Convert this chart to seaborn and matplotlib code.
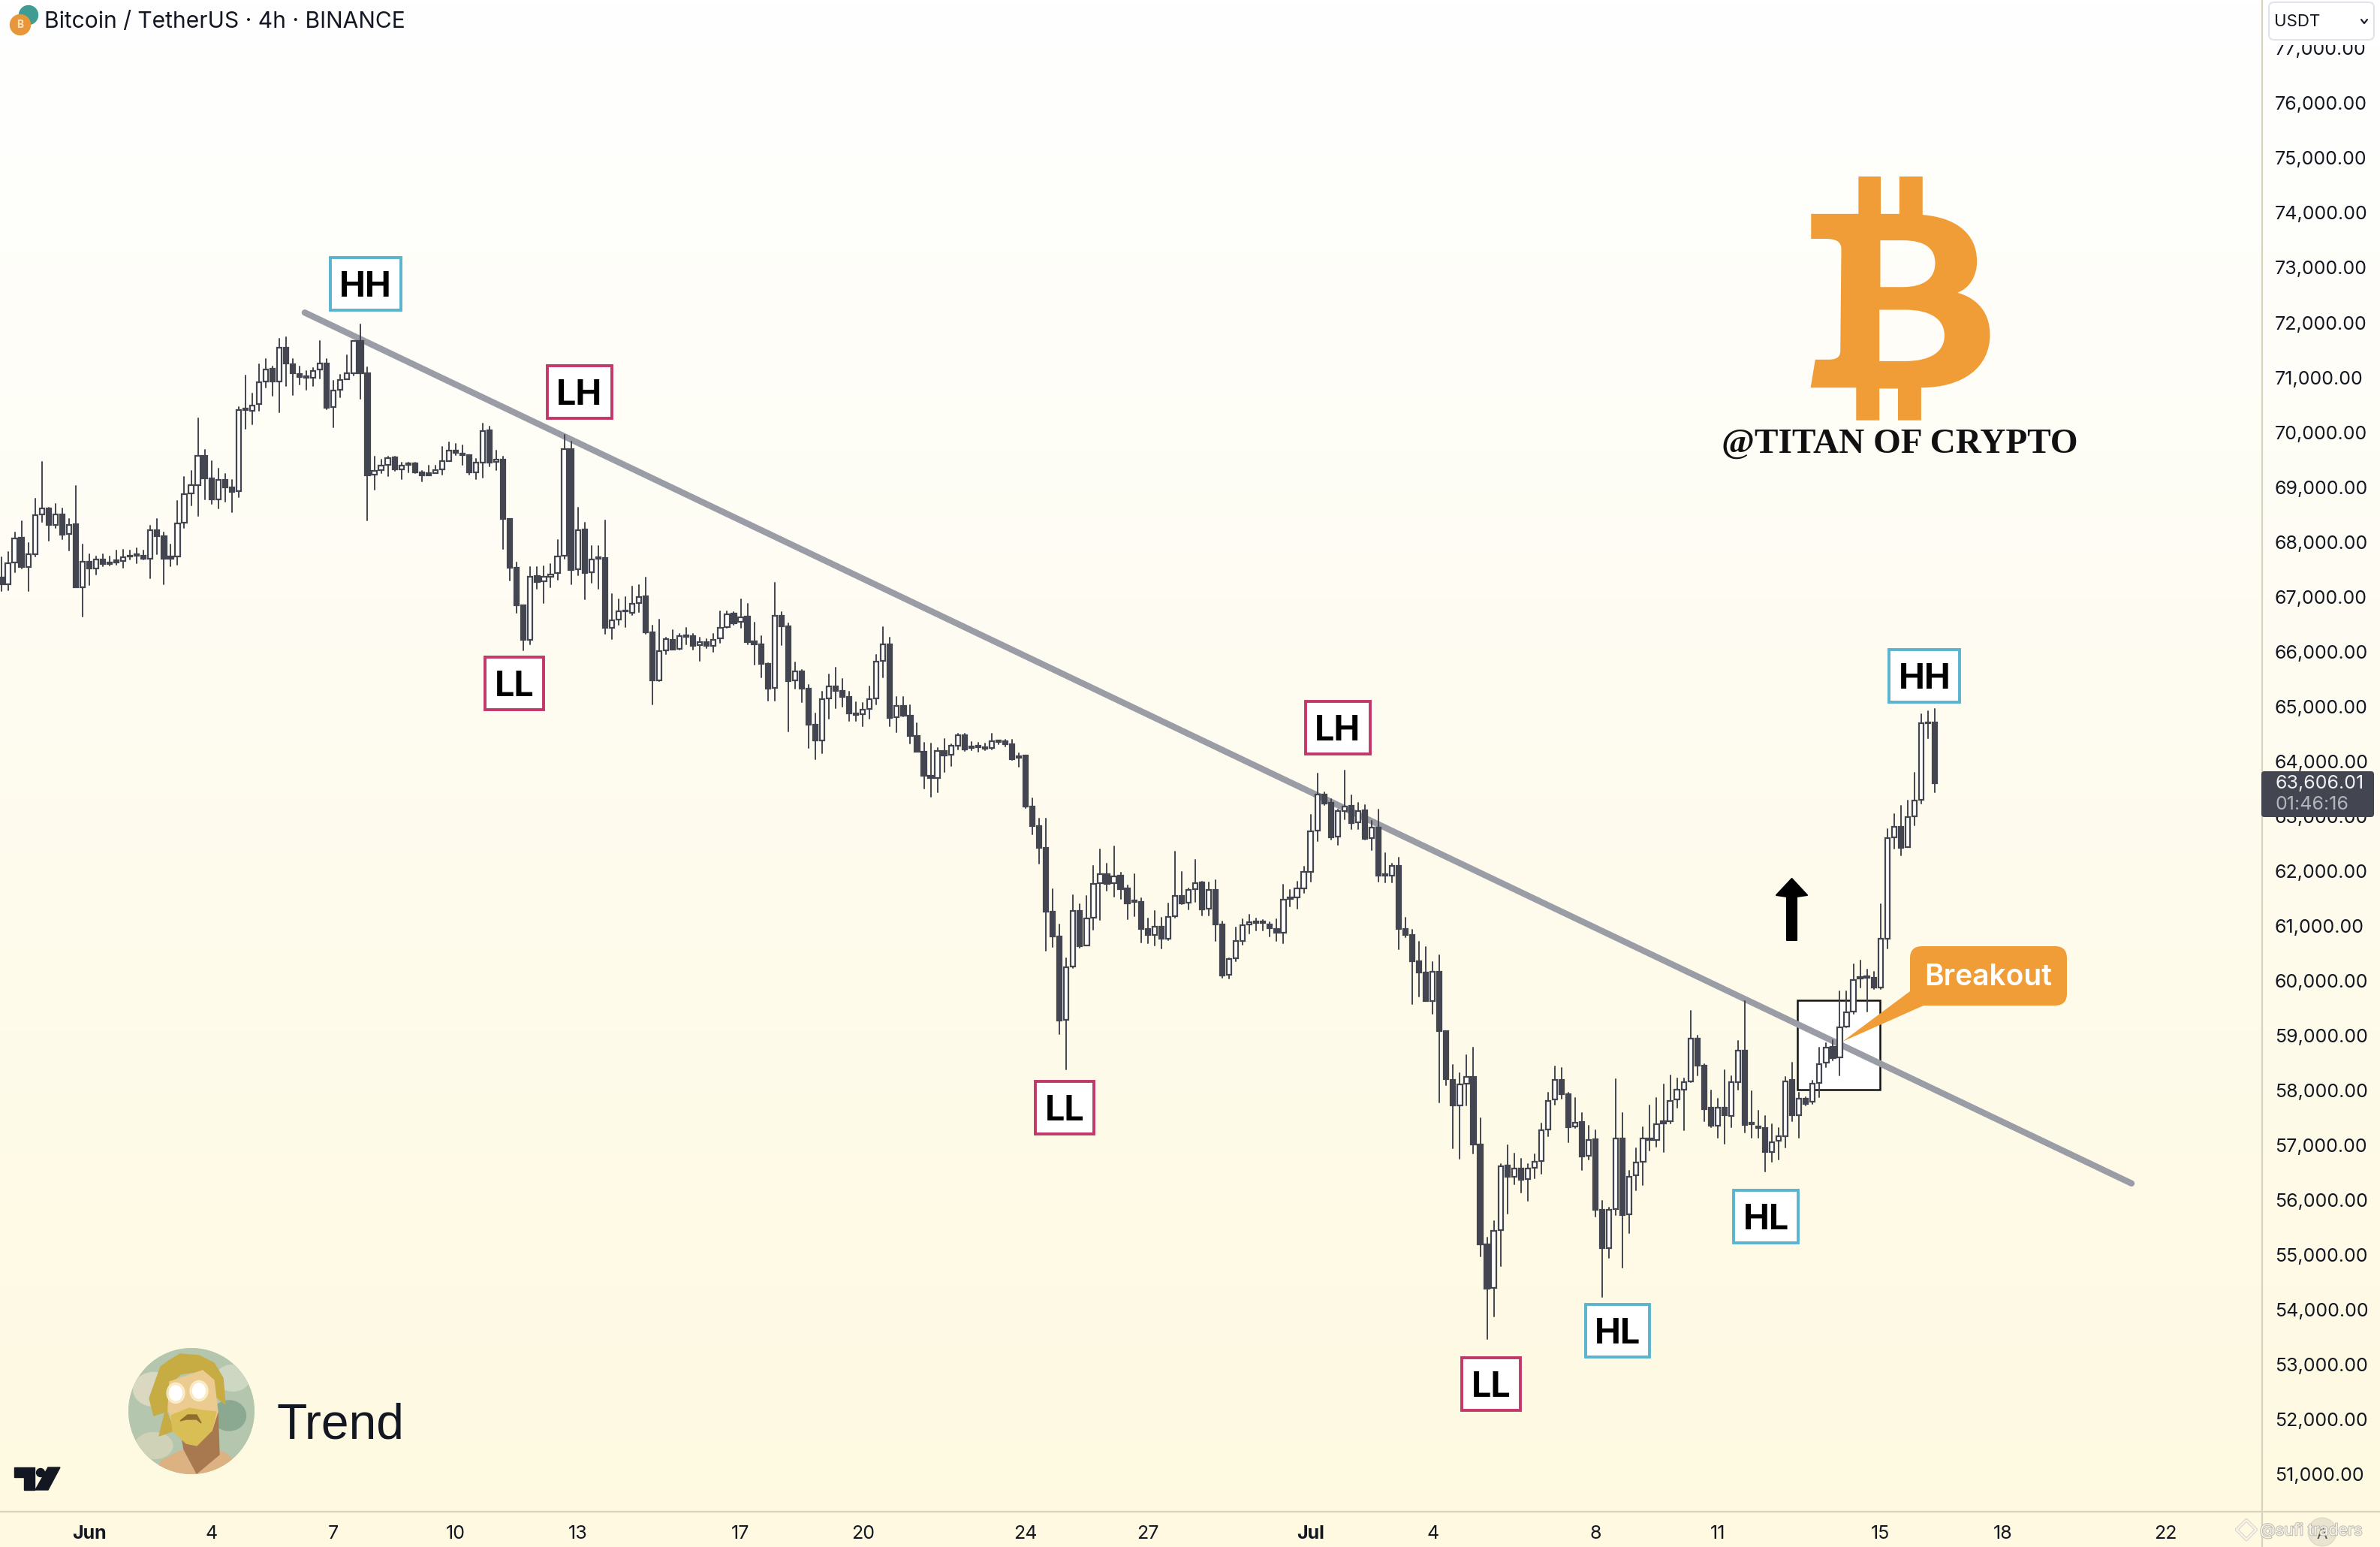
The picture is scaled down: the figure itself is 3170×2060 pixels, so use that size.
import numpy as np
import pandas as pd
import matplotlib
matplotlib.use("Agg")
import matplotlib.pyplot as plt
import matplotlib.dates as mdates
import matplotlib.patheffects as pe
from matplotlib.patches import Circle, Ellipse, FancyBboxPatch, PathPatch, Polygon, Rectangle
from matplotlib.path import Path
from matplotlib.ticker import FuncFormatter
from matplotlib.transforms import Affine2D
import seaborn as sns

# candles, 4h
opens = [
    67350, 67230, 67620, 68080, 67550, 67780, 68500, 68610, 68310, 68500,
    68140, 68320, 67180, 67640, 67510, 67680, 67630, 67670, 67650, 67740,
    67770, 67750, 67690, 68210, 68110, 67730, 67730, 68350, 68880, 69040,
    69570, 69160, 68780, 69130, 68990, 68920, 70430, 70390, 70510, 70920,
    71160, 70930, 71540, 71240, 71060, 71010, 70990, 71140, 71250, 70460,
    70770, 70970, 71080, 71660, 71080, 69230, 69310, 69400, 69540, 69330,
    69430, 69430, 69270, 69260, 69260, 69330, 69480, 69670, 69610, 69580,
    69270, 69450, 70030, 69460, 69500, 68420, 67530, 66850, 66220, 67380,
    67280, 67370, 67430, 67750, 69690, 67500, 68230, 67450, 67700, 67710,
    66440, 66580, 66730, 66710, 66880, 67010, 66350, 65480, 66020, 66220,
    66050, 66300, 66290, 66120, 66180, 66110, 66240, 66450, 66690, 66540,
    66640, 66190, 66130, 65780, 65340, 66650, 66460, 65480, 65640, 65330,
    64670, 64380, 65150, 65360, 65290, 65170, 64880, 64860, 64950, 65150,
    65830, 66130, 64800, 65010, 64830, 64460, 64170, 63740, 63700, 64190,
    64120, 64290, 64480, 64270, 64270, 64250, 64240, 64360, 64370, 64310,
    64060, 64110, 63180, 62820, 62420, 61260, 60810, 59290, 60260, 61270,
    60640, 61150, 61780, 61940, 61780, 61920, 61680, 61440, 61440, 60950,
    60840, 60990, 60760, 61170, 61540, 61420, 61670, 61790, 61320, 61650,
    61030, 60110, 60410, 60730, 61030, 61060, 61060, 61020, 60950, 60880,
    61490, 61520, 61690, 61990, 62740, 63400, 63250, 62630, 63100, 63190,
    62890, 63110, 62600, 62790, 61920, 61910, 62100, 60950, 60840, 60350,
    60150, 59630, 60170, 59080, 58190, 57730, 58120, 58240, 57010, 55190,
    54400, 55460, 56630, 56430, 56580, 56380, 56590, 56710, 57290, 57830,
    58190, 57930, 57340, 57420, 56810, 57110, 55820, 55130, 55840, 57120,
    55740, 56450, 56700, 57130, 57100, 57440, 57440, 57830, 58020, 58160,
    58940, 58450, 57680, 57360, 57680, 57540, 58150, 58730, 57380, 57340,
    57310, 56880, 57080, 57170, 58190, 57550, 57850, 57790, 58140, 58500,
    58790, 58600, 59170, 59440, 60060, 60050, 60050, 59880, 60770, 62620,
    62810, 62430, 63000, 63300, 64690, 64710,
]
closes = [
    67230, 67610, 68070, 67540, 67780, 68490, 68610, 68310, 68500, 68130,
    68310, 67180, 67640, 67510, 67680, 67600, 67600, 67630, 67720, 67730,
    67750, 67690, 68210, 68110, 67690, 67700, 68340, 68870, 69030, 69570,
    69160, 68780, 69130, 68990, 68910, 70400, 70410, 70490, 70910, 71150,
    70920, 71540, 71250, 71070, 71010, 70990, 71120, 71250, 70440, 70760,
    70950, 71070, 71660, 71080, 69220, 69300, 69390, 69530, 69320, 69390,
    69400, 69270, 69220, 69220, 69310, 69470, 69660, 69620, 69580, 69270,
    69440, 70020, 69450, 69500, 68420, 67530, 66850, 66210, 67370, 67270,
    67370, 67410, 67730, 69690, 67490, 68220, 67440, 67680, 67720, 66440,
    66570, 66740, 66750, 66870, 66990, 66350, 65480, 66010, 66230, 66040,
    66290, 66270, 66110, 66180, 66100, 66220, 66440, 66680, 66520, 66630,
    66180, 66130, 65780, 65320, 66650, 66460, 65460, 65640, 65330, 64670,
    64380, 65130, 65360, 65290, 65170, 64880, 64850, 64940, 65140, 65820,
    66130, 64790, 65010, 64830, 64460, 64170, 63740, 63700, 64190, 64110,
    64280, 64470, 64220, 64240, 64260, 64230, 64370, 64370, 64310, 64040,
    64100, 63170, 62820, 62420, 61260, 60810, 59280, 60250, 61270, 60630,
    61140, 61770, 61940, 61770, 61900, 61670, 61410, 61450, 60950, 60830,
    60990, 60760, 61160, 61540, 61410, 61650, 61780, 61300, 61650, 61030,
    60090, 60400, 60720, 61010, 61070, 61070, 61050, 60960, 60870, 61480,
    61510, 61680, 61980, 62730, 63390, 63230, 62620, 63090, 63170, 62880,
    63100, 62590, 62790, 61920, 61930, 62090, 60950, 60840, 60350, 60150,
    59630, 60170, 59080, 58200, 57720, 58110, 58240, 57010, 55190, 54380,
    55440, 56620, 56420, 56580, 56370, 56570, 56700, 57280, 57810, 58190,
    57930, 57330, 57410, 56800, 57100, 55820, 55130, 55820, 57120, 55730,
    56430, 56680, 57130, 57090, 57390, 57400, 57810, 58010, 58150, 58940,
    58450, 57660, 57350, 57680, 57550, 58150, 58730, 57370, 57390, 57310,
    56880, 57060, 57160, 58170, 57550, 57850, 57760, 58130, 58480, 58780,
    58590, 59150, 59430, 60010, 60040, 60060, 59870, 60760, 62600, 62800,
    62420, 62980, 63290, 64690, 64710, 63606,
]
highs = [
    67720, 67820, 68170, 68380, 67980, 68790, 69460, 68630, 68700, 68610,
    68420, 69020, 67960, 67770, 67740, 67780, 67730, 67840, 67860, 67850,
    67890, 67840, 68290, 68420, 68170, 67950, 68750, 69190, 69300, 70260,
    69680, 69470, 69340, 69240, 69130, 70460, 71030, 70700, 71240, 71340,
    71200, 71700, 71730, 71330, 71200, 71120, 71170, 71670, 71340, 70940,
    71050, 71410, 71670, 71960, 71180, 69550, 69500, 69550, 69550, 69450,
    69450, 69440, 69290, 69390, 69390, 69730, 69810, 69790, 69760, 69590,
    69520, 70160, 70110, 69670, 69560, 68420, 67630, 66850, 67550, 67550,
    67560, 67600, 68030, 69950, 69830, 68630, 68350, 67930, 67930, 68390,
    67050, 66950, 67000, 67190, 67220, 67350, 66470, 66590, 66260, 66390,
    66330, 66430, 66320, 66250, 66230, 66330, 66740, 66740, 66720, 66960,
    66870, 66530, 66280, 65790, 67260, 66720, 66510, 65810, 65670, 65390,
    64870, 65270, 65580, 65710, 65510, 65270, 65080, 65060, 65370, 65940,
    66450, 66260, 65170, 65170, 65030, 64690, 64340, 64330, 64240, 64410,
    64310, 64500, 64510, 64360, 64340, 64320, 64500, 64380, 64390, 64390,
    64150, 64110, 63320, 62950, 62950, 61670, 61020, 60410, 61560, 61390,
    61550, 62090, 62390, 62130, 62450, 61970, 61740, 61950, 61510, 61130,
    61270, 61150, 61410, 62350, 61980, 61690, 62200, 61810, 61790, 61840,
    61080, 60410, 60970, 61120, 61200, 61140, 61110, 61070, 61120, 61750,
    61660, 61810, 62080, 63030, 63780, 63430, 63310, 63120, 63830, 63380,
    63250, 63200, 62920, 63120, 62330, 62140, 62250, 61150, 60930, 60710,
    60610, 60340, 60470, 59080, 58470, 58320, 58640, 58780, 57500, 55320,
    55620, 56660, 57000, 56850, 56760, 56660, 56830, 57400, 57960, 58440,
    58410, 57960, 57870, 57590, 57350, 57280, 55990, 55870, 58210, 57590,
    56540, 56940, 57330, 57720, 57860, 58110, 58270, 58220, 58220, 59450,
    59000, 58480, 58000, 57850, 58370, 58260, 58910, 59630, 57980, 57630,
    57530, 57380, 57310, 58240, 58500, 57960, 57880, 58180, 58780, 58860,
    58920, 59810, 59810, 60300, 60370, 60210, 60160, 61390, 62760, 63040,
    63190, 63280, 63790, 64860, 64920, 64960,
]
lows = [
    67110, 67120, 67450, 67510, 67100, 67740, 68370, 68020, 68260, 68050,
    67850, 67170, 66640, 67220, 67400, 67560, 67570, 67590, 67530, 67680,
    67610, 67680, 67340, 67770, 67230, 67560, 67590, 68260, 68660, 68480,
    68780, 68700, 68610, 68730, 68540, 68820, 70060, 70140, 70390, 70810,
    70670, 70360, 70850, 70680, 70870, 70780, 70840, 70980, 70420, 70090,
    70640, 70970, 71030, 70610, 68390, 68960, 69260, 69200, 69290, 69150,
    69270, 69260, 69110, 69220, 69250, 69230, 69470, 69580, 69410, 69230,
    69150, 69170, 69380, 69310, 67870, 67300, 66710, 66020, 66130, 67140,
    66880, 67170, 67310, 67700, 67230, 67390, 66950, 67260, 67140, 66330,
    66230, 66490, 66450, 66670, 66720, 66320, 65040, 65460, 65950, 66040,
    66040, 66130, 66040, 65830, 66060, 66000, 66160, 66440, 66490, 66440,
    66130, 65760, 65530, 65100, 65110, 66120, 64540, 65320, 65080, 64240,
    64040, 64150, 64780, 64970, 65000, 64730, 64740, 64640, 64780, 65040,
    65530, 64640, 64530, 64820, 64330, 64170, 63500, 63350, 63430, 63800,
    63910, 64220, 64190, 64200, 64180, 64200, 64220, 64310, 64270, 64020,
    63900, 63150, 62670, 62130, 60550, 60620, 59030, 58380, 60230, 60600,
    60640, 60930, 61110, 61640, 61530, 61490, 61120, 61180, 60700, 60690,
    60640, 60590, 60740, 61150, 61390, 61300, 61440, 61190, 61190, 60720,
    60060, 60040, 60360, 60650, 60860, 60920, 60910, 60810, 60720, 60690,
    61360, 61320, 61600, 61810, 62540, 63200, 62570, 62480, 62940, 62770,
    62770, 62570, 62380, 61810, 61790, 61790, 60580, 60800, 59570, 59710,
    59630, 59390, 57780, 58100, 56940, 56760, 57720, 56850, 54980, 53470,
    53880, 54800, 55750, 56290, 56140, 55990, 56400, 56480, 57160, 57740,
    57850, 57060, 57310, 56550, 56740, 55700, 54240, 54950, 55730, 54770,
    55400, 56180, 56270, 56910, 56980, 56880, 57400, 57680, 57280, 58150,
    58270, 57440, 57330, 57140, 57030, 57330, 58020, 57240, 57140, 57140,
    56520, 56700, 56740, 56960, 57440, 57140, 57720, 57750, 57880, 58430,
    58550, 58280, 59150, 59400, 59870, 59440, 59850, 59850, 60590, 62410,
    62280, 62430, 62840, 63230, 64420, 63430,
]

price_ticks = list(range(51000, 78000, 1000))
date_ticks = ["2024-06-01", "2024-06-04", "2024-06-07", "2024-06-10", "2024-06-13", "2024-06-17",
              "2024-06-20", "2024-06-24", "2024-06-27", "2024-07-01", "2024-07-04", "2024-07-08",
              "2024-07-11", "2024-07-15", "2024-07-18", "2024-07-22"]
date_labels = ["Jun", "4", "7", "10", "13", "17", "20", "24", "27", "Jul", "4", "8", "11", "15", "18", "22"]

# swing labels
swing_text = ["HH", "LH", "LL", "LL", "LH", "HH", "LL", "HL", "HL"]
swing_dates = ["2024-06-07 18:50", "2024-06-13 01:00", "2024-06-11 10:30", "2024-06-24 23:00", "2024-07-01 16:00",
               "2024-07-16 02:00", "2024-07-05 10:30", "2024-07-08 13:00", "2024-07-12 04:30"]
swing_prices = [72703, 70736, 65415, 57689, 64620, 65552, 52648, 53620, 55703]
swing_widths = {"HH": 94, "LH": 86, "LL": 78, "HL": 86}

trend_dates = ["2024-06-06 07:00", "2024-07-21 04:00"]
trend_prices = [72182, 56305]
box_dates = ["2024-07-12 23:00", "2024-07-14 23:30"]
box_prices = [58020, 59648]

DARK = "#434650"
BLUE = "#5AB4CF"
RED = "#C2386A"
ORANGE = "#F09D38"
AXIS = "#D8D3BE"

sns.set_theme(style="white")
plt.rcParams["font.family"] = ["Inter", "DejaVu Sans"]

W, H = 3170, 2060
fig = plt.figure(figsize=(W / 100, H / 100), dpi=100)

# background gradient
ax_bg = fig.add_axes([0, 0, 1, 1], zorder=0)
top = np.array([255, 255, 255]) / 255
bottom = np.array([254, 249, 224]) / 255
t = np.linspace(0, 1, 512)[:, None, None]
ax_bg.imshow(top + (bottom - top) * t, aspect="auto")
ax_bg.axis("off")

# chart
ax = fig.add_axes([0, (H - 2013) / H, 3013 / W, 2013 / H], zorder=1)
ax.patch.set_alpha(0)

df = pd.DataFrame({"open": opens, "high": highs, "low": lows, "close": closes})
df["date"] = pd.date_range("2024-05-29 20:00", periods=len(df), freq="4h")
df["up"] = df["close"] >= df["open"]

wicks = df.melt(id_vars="date", value_vars=["high", "low"], value_name="price")
sns.lineplot(data=wicks, x="date", y="price", units="date", estimator=None,
             color=DARK, lw=1.4, ax=ax, zorder=3)
ax.bar(df["date"], (df["close"] - df["open"]).abs().clip(lower=25), bottom=df[["open", "close"]].min(axis=1),
       width=0.115, facecolor=["#ffffff" if u else DARK for u in df["up"]],
       edgecolor=DARK, linewidth=1.6, zorder=4)

ax.plot(pd.to_datetime(trend_dates), trend_prices, color="#9A9CA6", lw=6, solid_capstyle="round", zorder=2.5)

bx = mdates.date2num(pd.to_datetime(box_dates))
ax.add_patch(Rectangle((bx[0], box_prices[0]), bx[1] - bx[0], box_prices[1] - box_prices[0],
                       facecolor="#ffffff", edgecolor="#111111", lw=1.8, zorder=2))

days_per_px = 4 / 24 / 9.04
price_per_px = 1 / 0.073
for txt, d, p in zip(swing_text, swing_dates, swing_prices):
    c = BLUE if txt in ("HH", "HL") else RED
    w = swing_widths[txt] * days_per_px
    h = 70 * price_per_px
    cx = mdates.date2num(pd.Timestamp(d))
    ax.add_patch(Rectangle((cx - w / 2, p - h / 2), w, h, facecolor="#ffffff", edgecolor=c, lw=2.8, zorder=5))
    ax.text(pd.Timestamp(d), p, txt, ha="center", va="center_baseline", fontsize=33.5, fontweight="bold",
            color="#000000", zorder=6)

ax.set_xlim(pd.Timestamp("2024-05-29 19:20"), pd.Timestamp("2024-07-24 09:00"))
ax.set_ylim(50319, 77881)
ax.set_xlabel("")
ax.set_ylabel("")
ax.yaxis.tick_right()
ax.set_yticks(price_ticks)
ax.yaxis.set_major_formatter(FuncFormatter(lambda v, _: f"{v:,.2f}"))
ax.set_xticks(pd.to_datetime(date_ticks))
ax.set_xticklabels(date_labels)
ax.tick_params(axis="y", length=0, pad=12, labelsize=18, labelcolor="#131722")
ax.tick_params(axis="x", length=0, pad=13, labelsize=18, labelcolor="#131722")
for lab in ax.get_xticklabels():
    if lab.get_text() in ("Jun", "Jul"):
        lab.set_fontweight("bold")
for s in ("top", "left"):
    ax.spines[s].set_visible(False)
for s in ("right", "bottom"):
    ax.spines[s].set_color(AXIS)
    ax.spines[s].set_linewidth(1.6)

# overlay in picture pixels
ov = fig.add_axes([0, 0, 1, 1], zorder=2)
ov.set_xlim(0, W)
ov.set_ylim(H, 0)
ov.axis("off")
ov.plot([3013, 3013], [2013, H], color=AXIS, lw=1.6)
ov.plot([3013, W], [2013, 2013], color=AXIS, lw=1.6)

# title
ov.add_patch(Circle((38, 20), 12.5, color="#3E9C93"))
ov.add_patch(Circle((27, 33), 13.5, color="#E8963A"))
ov.text(27, 33, "B", fontsize=10, color="#FBE3C0", ha="center", va="center", fontweight="bold")
ov.text(59, 29, "Bitcoin / TetherUS · 4h · BINANCE", fontsize=21.6, color="#131722", ha="left", va="center")

# currency box, also hides the top of the price scale
ov.add_patch(Rectangle((3015, 0), W - 3015, 60, facecolor="#ffffff", edgecolor="none", zorder=4))
ov.add_patch(FancyBboxPatch((3022, 3), 140, 50, boxstyle="round,pad=0,rounding_size=7",
                            facecolor="#ffffff", edgecolor="#E0E3EB", lw=1.4, zorder=5))
ov.text(3029, 29, "USDT", fontsize=16, color="#131722", ha="left", va="center", zorder=6)
ov.plot([3145, 3149, 3153], [26, 31, 26], color="#131722", lw=1.5, zorder=6)

# last price box
ov.add_patch(FancyBboxPatch((3012, 1027), 150, 61, boxstyle="round,pad=0,rounding_size=4",
                            facecolor=DARK, edgecolor="none", zorder=5))
ov.text(3031, 1043, "63,606.01", fontsize=18, color="#F0F1F3", ha="left", va="center", zorder=6)
ov.text(3031, 1071, "01:46:16", fontsize=18, color="#B4B6BC", ha="left", va="center", zorder=6)

# bitcoin logo, shape traced in zoom units
M, L, C, Z = Path.MOVETO, Path.LINETO, Path.CURVE4, Path.CLOSEPOLY
verts = [(445, 567), (493, 567), (493, 687), (533, 687), (533, 567), (583, 567), (583, 690),
         (650, 698), (700, 745), (700, 840), (700, 885), (685, 925), (658, 940),
         (705, 960), (728, 1010), (728, 1075), (728, 1180), (670, 1245), (580, 1245),
         (580, 1350), (530, 1350), (530, 1248), (490, 1248), (490, 1350), (440, 1350), (440, 1245),
         (342, 1245), (352, 1155), (380, 1155), (400, 1155), (406, 1145), (406, 1125), (408, 800),
         (408, 780), (400, 767), (375, 767), (343, 767), (343, 687), (445, 687), (445, 567),
         (492, 772), (492, 922), (540, 922), (585, 922), (610, 895), (610, 845),
         (610, 800), (590, 772), (540, 772), (492, 772),
         (490, 995), (490, 1160), (545, 1160), (600, 1160), (630, 1130), (630, 1078),
         (630, 1025), (600, 995), (545, 995), (490, 995)]
codes = [M, L, L, L, L, L, L, C, C, C, C, C, C, C, C, C, C, C, C, L, L, L, L, L, L, L, L, L, L,
         C, C, C, L, C, C, C, L, L, L, Z,
         M, L, L, C, C, C, C, C, C, Z,
         M, L, L, C, C, C, C, C, C, Z]
logo = Path(verts, codes)
to_px = Affine2D().scale(1 / 1.616, 1 / 2.412).translate(2200, 0)
ov.add_patch(PathPatch(logo, facecolor=ORANGE, edgecolor="none", transform=to_px + ov.transData))
ov.text(2530, 592, "@TITAN OF CRYPTO", fontsize=34, fontweight="bold", family="Liberation Serif",
        color="#111111", ha="center", va="center")

# arrow and breakout callout
ov.add_patch(Polygon([(2386.6, 1170), (2407, 1192), (2393, 1194), (2393, 1252), (2380, 1252), (2380, 1194), (2366, 1192)],
                     closed=True, facecolor="#000000", edgecolor="#000000", lw=1.5, joinstyle="round", zorder=5))
ov.add_patch(Polygon([(2454, 1387), (2544, 1320), (2562, 1339)], closed=True, facecolor=ORANGE, edgecolor="none", zorder=5))
ov.add_patch(FancyBboxPatch((2544, 1260), 209, 79, boxstyle="round,pad=0,rounding_size=16",
                            facecolor=ORANGE, edgecolor="none", zorder=5))
ov.text(2648, 1302, "Breakout", fontsize=28, fontweight="semibold", color="#ffffff", ha="center", va="center", zorder=6)

# avatar
clip = Circle((255, 1879), 84, transform=ov.transData)
parts = [
    Circle((255, 1879), 84, color="#B4C6AE"),
    Ellipse((205, 1850), 55, 45, color="#DAD8C0"),
    Ellipse((310, 1835), 45, 35, color="#CDD7C2"),
    Ellipse((305, 1885), 45, 40, color="#8BA891"),
    Ellipse((205, 1925), 50, 35, color="#CFD2B6"),
    Polygon([(205, 1965), (215, 1945), (240, 1932), (285, 1930), (300, 1935), (315, 1948), (325, 1965)], color="#DCB283"),
    Polygon([(240, 1900), (290, 1880), (292, 1937), (262, 1962), (245, 1930)], color="#A8794E"),
    Polygon([(199, 1862), (214, 1820), (225, 1812), (240, 1803), (265, 1805), (285, 1815), (297, 1835), (300, 1870),
             (288, 1860), (285, 1838), (270, 1825), (240, 1830), (226, 1845), (222, 1880), (232, 1905), (212, 1912),
             (220, 1880), (205, 1885)], color="#C6AC42"),
    Polygon([(226, 1840), (270, 1825), (285, 1838), (290, 1880), (282, 1905), (232, 1905), (224, 1875)], color="#EBCB90"),
    Polygon([(228, 1885), (252, 1875), (268, 1878), (288, 1880), (282, 1905), (262, 1925), (248, 1922), (230, 1905)], color="#D8BE55"),
    Polygon([(240, 1892), (250, 1884), (262, 1884), (268, 1895), (262, 1890), (248, 1890)], color="#8F6E2E"),
]
for p in parts:
    ov.add_patch(p)
    p.set_clip_path(clip)
for ex, ey in [(234, 1855), (265, 1852)]:
    ov.add_patch(Ellipse((ex, ey), 24, 27, color="#FFF6D8", alpha=0.7))
    ov.add_patch(Ellipse((ex, ey), 17, 20, color="#ffffff"))
ov.text(368, 1915, "Trend", fontsize=47.5, family="Liberation Sans", color="#131722", ha="left", va="baseline")

# tradingview mark
ov.add_patch(Polygon([(19, 1954), (46, 1954), (46, 1984), (32, 1984), (32, 1967), (19, 1967)], color="#131722"))
ov.add_patch(Circle((54, 1961), 5.5, color="#131722"))
ov.add_patch(Polygon([(64, 1954), (80, 1954), (64, 1984), (47, 1984)], color="#131722"))

# watermark
ov.add_patch(Circle((3093, 2040), 19, color="#8A8A85", alpha=0.18, zorder=7))
ov.text(3093, 2043, "A", fontsize=15, color="#55554F", ha="center", va="center", zorder=7)
ov.plot([2979, 2992, 3005, 2992, 2979], [2037, 2024, 2037, 2050, 2037], color="#F6F4EA", lw=2, zorder=8,
        path_effects=[pe.withStroke(linewidth=3, foreground="#C9C7BB")])
ov.text(3010, 2038, "@sufi traders", fontsize=15.5, color="#F6F4EA", ha="left", va="center", zorder=8,
        path_effects=[pe.withStroke(linewidth=1.4, foreground="#BDBBB0")])

fig.savefig("out.png", dpi=100)
